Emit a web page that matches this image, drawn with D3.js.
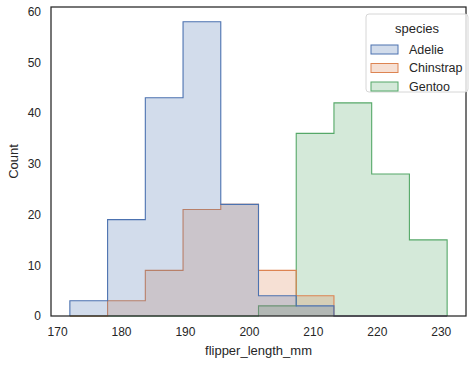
<!DOCTYPE html>
<html>
<head>
<meta charset="UTF-8">
<script src="https://cdn.jsdelivr.net/npm/d3@7"></script>
<style>
  body { margin: 0; background: #fff; }
  text { font-family: "Liberation Sans", Arial, sans-serif; fill: #262626; }
</style>
</head>
<body>
<svg id="chart" width="474" height="365"></svg>
<script>
// histogram bins (shared for all species)
const binEdges = [172, 177.9, 183.8, 189.7, 195.6, 201.5, 207.4, 213.3, 219.2, 225.1, 231];
const species = ['Adelie', 'Chinstrap', 'Gentoo'];
const adelieCounts = [3, 19, 43, 58, 22, 4, 2, 0, 0, 0];
const chinstrapCounts = [0, 3, 9, 21, 22, 9, 4, 0, 0, 0];
const gentooCounts = [0, 0, 0, 0, 0, 2, 36, 42, 28, 15];
const xTicks = [170, 180, 190, 200, 210, 220, 230];
const yTicks = [0, 10, 20, 30, 40, 50, 60];

const colors = { Adelie: '#4C72B0', Chinstrap: '#DD8452', Gentoo: '#55A868' };
const counts = { Adelie: adelieCounts, Chinstrap: chinstrapCounts, Gentoo: gentooCounts };

const margin = { top: 7, right: 8, bottom: 49, left: 51 };
const W = 474, H = 365;
const width = W - margin.left - margin.right;
const height = H - margin.top - margin.bottom;

const svg = d3.select('#chart');
const g = svg.append('g').attr('transform', `translate(${margin.left},${margin.top})`);

const xMin = binEdges[0], xMax = binEdges[binEdges.length - 1];
const pad = (xMax - xMin) * 0.05;
const x = d3.scaleLinear().domain([xMin - pad, xMax + pad]).range([0, width]);
const yMaxVal = d3.max([...adelieCounts, ...chinstrapCounts, ...gentooCounts]);
const y = d3.scaleLinear().domain([0, yMaxVal * 1.05]).range([height, 0]);

// step outline points for one series
function stepPoints(vals) {
  const pts = [[binEdges[0], 0]];
  vals.forEach((v, i) => {
    pts.push([binEdges[i], v]);
    pts.push([binEdges[i + 1], v]);
  });
  pts.push([binEdges[binEdges.length - 1], 0]);
  return pts;
}
const line = d3.line().x(d => x(d[0])).y(d => y(d[1]));

// seaborn draws in reverse hue order
species.slice().reverse().forEach(s => {
  const pts = stepPoints(counts[s]);
  g.append('path')
    .attr('d', line(pts) + 'Z')
    .attr('fill', colors[s])
    .attr('fill-opacity', 0.25)
    .attr('stroke', 'none');
  g.append('path')
    .attr('d', line(pts))
    .attr('fill', 'none')
    .attr('stroke', colors[s])
    .attr('stroke-width', 1.1);
});

// axes without tick marks
const xAxis = g.append('g')
  .attr('transform', `translate(0,${height})`)
  .call(d3.axisBottom(x).tickValues(xTicks).tickSize(0).tickPadding(11));
const yAxis = g.append('g')
  .call(d3.axisLeft(y).tickValues(yTicks).tickSize(0).tickPadding(10));
[xAxis, yAxis].forEach(a => {
  a.select('.domain').remove();
  a.selectAll('text').style('font-size', '12px').style('font-family', '"Liberation Sans", Arial, sans-serif').attr('fill', '#262626');
});

// frame
g.append('rect')
  .attr('width', width).attr('height', height)
  .attr('fill', 'none').attr('stroke', '#262626').attr('stroke-width', 1.25);

// axis labels
g.append('text')
  .attr('x', width / 2).attr('y', height + 39)
  .attr('text-anchor', 'middle')
  .style('font-size', '13px')
  .text('flipper_length_mm');
g.append('text')
  .attr('transform', 'rotate(-90)')
  .attr('x', -height / 2).attr('y', -33)
  .attr('text-anchor', 'middle')
  .style('font-size', '13px')
  .text('Count');

// legend
const legend = g.append('g').attr('transform', `translate(${width - 108 + 8},7)`);
legend.append('rect')
  .attr('width', 102).attr('height', 78).attr('rx', 3)
  .attr('fill', '#fff').attr('fill-opacity', 0.8)
  .attr('stroke', '#d6d6d6').attr('stroke-width', 1);
legend.append('text')
  .attr('x', 51).attr('y', 19)
  .attr('text-anchor', 'middle')
  .style('font-size', '13px')
  .text('species');
species.forEach((s, i) => {
  const row = legend.append('g').attr('transform', `translate(5,${31 + i * 18.5})`);
  row.append('rect')
    .attr('width', 27).attr('height', 9)
    .attr('fill', colors[s]).attr('fill-opacity', 0.25)
    .attr('stroke', colors[s]).attr('stroke-width', 1);
  row.append('text')
    .attr('x', 38).attr('y', 4.5).attr('dy', '0.35em')
    .style('font-size', '12.5px')
    .text(s);
});
</script>
</body>
</html>
